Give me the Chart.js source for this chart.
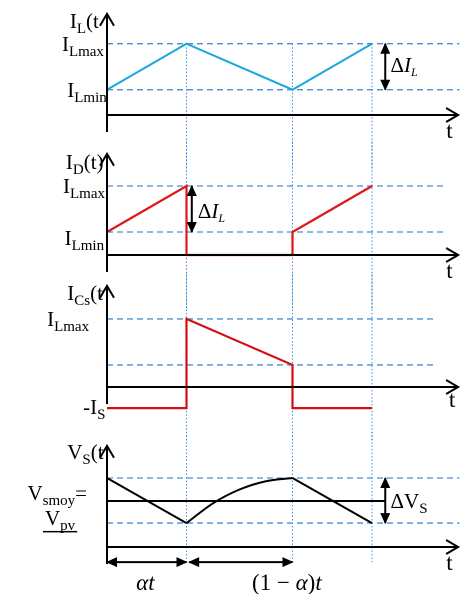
<!DOCTYPE html>
<html><head><meta charset="utf-8">
<script src="https://cdn.jsdelivr.net/npm/chart.js@4/dist/chart.umd.min.js"></script>
<style>
body{margin:0;background:#fff;width:474px;height:594px;overflow:hidden;position:relative}
.p{position:absolute;left:0;width:474px;height:170px}
</style></head><body>
<div class="p" style="top:0"><canvas id="c1" width="474" height="170"></canvas></div>
<div class="p" style="top:140px"><canvas id="c2" width="474" height="170"></canvas></div>
<div class="p" style="top:272px"><canvas id="c3" width="474" height="170"></canvas></div>
<div class="p" style="top:432px"><canvas id="c4" width="474" height="170"></canvas></div>
<script>
// time instants (fraction of period)
const tKeys = [0, 0.30, 0.70, 1.0];
const tAxisEnd = 1.325;
// panel 1: inductor current
const iL_t = [0, 0.30, 0.70, 1.0];
const iL_v = [0.55, 1.55, 0.55, 1.55];
const p1Levels = [0.55, 1.55];
// panel 2: diode current
const iD_t = [0, 0.30, 0.30, 0.70, 0.70, 1.0];
const iD_v = [0.5, 1.5, 0, 0, 0.5, 1.5];
const p2Levels = [0.5, 1.5];
// panel 3: capacitor current
const iC_t = [0, 0.30, 0.30, 0.70, 0.70, 1.0];
const iC_v = [-0.46, -0.46, 1.48, 0.48, -0.46, -0.46];
const p3Levels = [0.48, 1.48];
// panel 4: capacitor voltage
const vS1_t = [0, 0.30], vS1_v = [1.5, 0.52];
const vS2_t = [0.30, 0.40, 0.50, 0.60, 0.70], vS2_v = [0.52, 0.95, 1.25, 1.43, 1.5];
const vS3_t = [0.70, 1.0], vS3_v = [1.5, 0.52];
const p4Levels = [0.52, 1.5];
const vMean = 1.0;

const DASH='#4a8fd3', DOT='#3f8ee0', SERIF='"Liberation Serif","DejaVu Serif",serif';
const pts=(xs,ys)=>xs.map((x,i)=>({x,y:ys[i]}));
function L(xs,ys,color,w,extra){return Object.assign({data:pts(xs,ys),borderColor:color,borderWidth:w,pointRadius:0,fill:false,tension:0,order:0},extra||{});}
function axes(){return [
  L([0,0],[-0.37,2.2],'#000',2,{arrowEnd:'open'}),
  L([0,tAxisEnd],[0,0],'#000',2,{arrowEnd:'open'})];}
function dashed(levels,end){return levels.map(v=>L([0,end],[v,v],DASH,1.3,{borderDash:[6,4],order:10}));}
function dotted(top,bot){return tKeys.slice(1).map(t=>L([t,t],[top,bot],DOT,1,{borderDash:[1.5,2],order:10}));}
function dbl(x,a,b){return L([x,x],[a,b],'#000',2,{arrowEnd:'filled',arrowStart:'filled'});}

const arrowPlugin={id:'arrows',afterDatasetsDraw(chart){
  const ctx=chart.ctx,xs=chart.scales.x,ys=chart.scales.y;
  chart.data.datasets.forEach(ds=>{
    const P=ds.data.map(p=>[xs.getPixelForValue(p.x),ys.getPixelForValue(p.y)]);
    const head=(a,b,style)=>{const ang=Math.atan2(b[1]-a[1],b[0]-a[0]);ctx.save();ctx.translate(b[0],b[1]);ctx.rotate(ang);
      ctx.strokeStyle=ds.borderColor;ctx.fillStyle=ds.borderColor;ctx.lineWidth=2;ctx.setLineDash([]);
      if(style==='open'){ctx.beginPath();ctx.moveTo(-12,-7);ctx.lineTo(0,0);ctx.lineTo(-12,7);ctx.stroke();}
      else{ctx.beginPath();ctx.moveTo(1,0);ctx.lineTo(-10,-5);ctx.lineTo(-10,5);ctx.closePath();ctx.fill();}
      ctx.restore();};
    if(ds.arrowEnd)head(P[P.length-2],P[P.length-1],ds.arrowEnd);
    if(ds.arrowStart)head(P[1],P[0],ds.arrowStart);
  });
  (chart.options.plugins.txt.items||[]).forEach(it=>{
    let px=xs.getPixelForValue(it.x),py=ys.getPixelForValue(it.y);const x0=px;
    it.parts.forEach(p=>{ctx.font=(p.i?'italic ':'')+(p.s||21)+'px '+SERIF;ctx.fillStyle='#000';ctx.textBaseline='alphabetic';
      ctx.fillText(p.t,px,py+(p.dy||0));px+=ctx.measureText(p.t).width;});
    if(it.u){ctx.fillRect(x0-2,py+6,px-x0+4,1.5);}
  });
}};
function make(id,datasets,items){
  new Chart(document.getElementById(id),{type:'line',data:{datasets},plugins:[arrowPlugin],
    options:{responsive:false,animation:false,devicePixelRatio:2,layout:{padding:0},
      plugins:{legend:{display:false},tooltip:{enabled:false},txt:{items}},
      scales:{x:{type:'linear',display:false,min:-107/265,max:367/265},y:{type:'linear',display:false,min:-55/46,max:115/46}}}});
}
const sub=(t)=>({t,s:15,dy:5});
make('c1',[...dashed(p1Levels,1.33),...dotted(1.55,-1.2),...axes(),L(iL_t,iL_v,'#1aa7df',2),dbl(1.05,0.55,1.55)],[
  {x:-0.14,y:1.89,parts:[{t:'I'},sub('L'),{t:'(t'}]},
  {x:-0.17,y:1.39,parts:[{t:'I'},sub('Lmax')]},
  {x:-0.15,y:0.39,parts:[{t:'I'},sub('Lmin')]},
  {x:1.28,y:-0.5,parts:[{t:'t',s:23}]},
  {x:1.07,y:0.93,parts:[{t:'Δ'},{t:'I',i:1},{t:'L',s:12,dy:4,i:1}]}]);
make('c2',[...dashed(p2Levels,1.27),...dotted(2.6,-1.2),...axes(),L(iD_t,iD_v,'#e01515',2.2),dbl(0.32,0.5,1.5)],[
  {x:-0.155,y:1.87,parts:[{t:'I'},sub('D'),{t:'(t)'}]},
  {x:-0.166,y:1.35,parts:[{t:'I'},sub('Lmax')]},
  {x:-0.16,y:0.22,parts:[{t:'I'},sub('Lmin')]},
  {x:1.28,y:-0.5,parts:[{t:'t',s:23}]},
  {x:0.343,y:0.8,parts:[{t:'Δ'},{t:'I',i:1},{t:'L',s:12,dy:4,i:1}]}]);
make('c3',[...dashed(p3Levels,1.24),...dotted(2.6,-1.2),...axes(),L(iC_t,iC_v,'#d01010',2.2)],[
  {x:-0.15,y:1.89,parts:[{t:'I'},sub('Cs'),{t:'(t'}]},
  {x:-0.226,y:1.33,parts:[{t:'I'},sub('Lmax')]},
  {x:-0.09,y:-0.59,parts:[{t:'-I'},sub('S')]},
  {x:1.29,y:-0.43,parts:[{t:'t',s:23}]}]);
make('c4',[...dashed(p4Levels,1.33),...dotted(3.5,-0.33),...axes(),
  L([0,1.05],[vMean,vMean],'#000',2),
  L(vS1_t,vS1_v,'#000',2),L(vS2_t,vS2_v,'#000',2,{cubicInterpolationMode:'monotone'}),L(vS3_t,vS3_v,'#000',2),
  dbl(1.05,0.52,1.5),
  L([0,0.30],[-0.33,-0.33],'#000',2,{arrowEnd:'filled',arrowStart:'filled'}),
  L([0.31,0.70],[-0.33,-0.33],'#000',2,{arrowEnd:'filled',arrowStart:'filled'})],[
  {x:-0.15,y:1.91,parts:[{t:'V'},sub('S'),{t:'(t'}]},
  {x:-0.30,y:1.02,parts:[{t:'V'},sub('smoy'),{t:'='}]},
  {x:-0.234,y:0.48,u:1,parts:[{t:'V'},sub('pv')]},
  {x:1.28,y:-0.5,parts:[{t:'t',s:23}]},
  {x:1.07,y:0.85,parts:[{t:'ΔV'},sub('S')]},
  {x:0.11,y:-0.93,parts:[{t:'αt',i:1,s:23}]},
  {x:0.547,y:-0.93,parts:[{t:'(1 − ',s:23},{t:'α',i:1,s:23},{t:')',s:23},{t:'t',i:1,s:23}]}]);
</script></body></html>
